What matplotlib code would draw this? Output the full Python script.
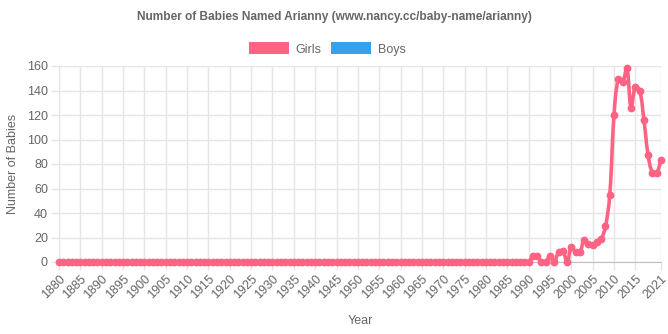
import matplotlib
matplotlib.use("Agg")
import matplotlib.pyplot as plt
from matplotlib.patches import Patch, PathPatch
from matplotlib.path import Path
import numpy as np

plt.rcParams['font.family'] = ['Liberation Sans', 'DejaVu Sans']

years = list(range(1880, 2022))
girls_recent_years = list(range(1991, 2022))
girls_recent = [5, 5, 0, 0, 5, 0, 8, 9, 0, 12, 8, 8, 18, 15, 14, 16, 19, 29, 55,
                120, 149, 147, 158, 126, 143, 140, 116, 87, 73, 73, 83]
girls = [0] * (1991 - 1880) + girls_recent

tick_years = list(range(1880, 2016, 5)) + [2021]
tick_labels = [str(y) for y in tick_years]
y_ticks = list(range(0, 161, 20))

title = "Number of Babies Named Arianny (www.nancy.cc/baby-name/arianny)"
girls_color = "#ff6384"
boys_color = "#36a2eb"
text_color = "#666666"
tension = 0.4

fig = plt.figure(figsize=(6.68, 3.34), dpi=100)
ax = fig.add_axes([59/668, 72/334, 602/668, 196/334])
ax.set_xlim(1880, 2021)
ax.set_ylim(0, 160)

# Chart.js-style smoothed line (control points from the data, in pixel space)
pts = ax.transData.transform(np.column_stack([years, girls]).astype(float))
n = len(pts)
verts = [pts[0]]
codes = [Path.MOVETO]
cps = []
for i in range(n):
    prev = pts[i - 1] if i > 0 else pts[i]
    cur = pts[i]
    nxt = pts[i + 1] if i < n - 1 else pts[i]
    d01 = np.hypot(*(cur - prev))
    d12 = np.hypot(*(nxt - cur))
    s = d01 + d12
    fa = tension * d01 / s if s else 0
    fb = tension * d12 / s if s else 0
    c1 = cur - fa * (nxt - prev)
    c2 = cur + fb * (nxt - prev)
    cps.append((c1, c2))
y_lo = ax.transData.transform((0, 0))[1]
y_hi = ax.transData.transform((0, 160))[1]
def cap(p):
    return np.array([p[0], min(max(p[1], min(y_lo, y_hi)), max(y_lo, y_hi))])
for i in range(1, n):
    verts += [cap(cps[i - 1][1]), cap(cps[i][0]), pts[i]]
    codes += [Path.CURVE4] * 3
path = Path(np.array(verts), codes)
patch = PathPatch(path, facecolor='none', edgecolor=girls_color, lw=2.6,
                  transform=None, zorder=3, clip_on=False,
                  capstyle='round', joinstyle='round')
ax.add_artist(patch)
ax.plot(years, girls, linestyle='none', marker='o', ms=4.6,
        color=girls_color, zorder=4, clip_on=False)

ax.set_xticks(tick_years)
ax.set_xticklabels(tick_labels, rotation=45, ha='right', va='top',
                   rotation_mode='anchor', fontsize=9, color=text_color)
ax.set_yticks(y_ticks)
ax.set_yticklabels([str(v) for v in y_ticks], fontsize=9, color=text_color)
ax.grid(True, color='#e5e5e5', lw=1)
ax.set_axisbelow(True)
for s in ['top', 'right']:
    ax.spines[s].set_visible(False)
ax.spines['left'].set_color('#e5e5e5')
ax.spines['bottom'].set_color('#bfbfbf')
ax.tick_params(axis='both', colors='#e5e5e5', length=6, width=1,
               labelcolor=text_color, pad=2)

ax.set_xlabel("Year", fontsize=9, color=text_color, labelpad=10)
ax.set_ylabel("Number of Babies", fontsize=9, color=text_color, labelpad=6)

fig.text(0.5, 1 - 17/334, title, ha='center', va='center', fontsize=8.6,
         fontweight='bold', color=text_color)

handles = [Patch(facecolor=girls_color, label="Girls"),
           Patch(facecolor=boys_color, label="Boys")]
fig.legend(handles=handles, loc='center', bbox_to_anchor=(0.49, 1 - 49/334),
           ncol=2, frameon=False, fontsize=9, handlelength=3.2,
           handleheight=1.1, handletextpad=0.5, columnspacing=0.8,
           labelcolor=text_color)

fig.savefig("out.png", dpi=100)
